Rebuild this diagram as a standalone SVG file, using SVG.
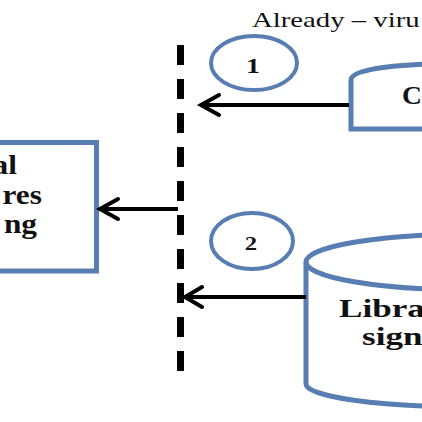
<svg xmlns="http://www.w3.org/2000/svg" width="422" height="422" viewBox="0 0 422 422">
<style>
.shape{fill:none;stroke:#587db3;stroke-width:5}
.circ{fill:none;stroke:#587db3;stroke-width:4}
.b{font-family:"Liberation Serif","Times New Roman",serif;font-weight:bold;fill:#111}
.r{font-family:"Liberation Serif","Times New Roman",serif;fill:#111}
.line{stroke:#000;stroke-width:4;fill:none}
.head{stroke:#000;stroke-width:4;fill:none;stroke-linecap:round;stroke-linejoin:miter}
</style>
<rect width="422" height="422" fill="#fff"/>
<g id="title">
<g transform="translate(252,27) scale(1.37,1)"><text class="r" font-size="21">Already – viru</text></g>
</g>
<g id="matching-box">
<rect class="shape" x="-10" y="142.5" width="106.5" height="128.5"/>
<g transform="translate(17,174) scale(1.12,1)"><text class="b" font-size="28" text-anchor="end">al</text></g>
<g transform="translate(42,204) scale(1.12,1)"><text class="b" font-size="28" text-anchor="end">res</text></g>
<g transform="translate(37,233) scale(1.12,1)"><text class="b" font-size="28" text-anchor="end">ng</text></g>
</g>
<g id="boundary">
<line x1="180.5" y1="45" x2="180.5" y2="372" stroke="#000" stroke-width="7" stroke-dasharray="20 14"/>
</g>
<g id="step1">
<ellipse class="circ" cx="254" cy="63" rx="43" ry="27"/>
<g transform="translate(253,72.5) scale(1.3,1)"><text class="b" font-size="21" text-anchor="middle">1</text></g>
</g>
<g id="step2">
<ellipse class="circ" cx="252" cy="241" rx="41" ry="28"/>
<g transform="translate(251,249.5) scale(1.3,1)"><text class="b" font-size="19" text-anchor="middle">2</text></g>
</g>
<g id="top-store">
<path class="shape" d="M430 129 H351 V80 C351 71 380 66 430 64"/>
<g transform="translate(402,104) scale(1.1,1)"><text class="b" font-size="25">C</text></g>
</g>
<g id="library">
<ellipse class="shape" cx="470" cy="262" rx="164" ry="28"/>
<path class="shape" d="M306 262 V384 A164 23 0 0 0 634 384 V262"/>
<g transform="translate(339,317) scale(1.35,1)"><text class="b" font-size="26">Libra</text></g>
<g transform="translate(362,345) scale(1.35,1)"><text class="b" font-size="26">sign</text></g>
</g>
<g id="connectors">
<line class="line" x1="178" y1="209" x2="101" y2="209"/>
<polyline class="head" points="118,199 100,209 118,219"/>
<line class="line" x1="349" y1="105" x2="202" y2="105"/>
<polyline class="head" points="219,95 201,105 219,115"/>
<line class="line" x1="306" y1="297" x2="186" y2="297"/>
<polyline class="head" points="202,287 185,297 202,307"/>
</g>
</svg>
